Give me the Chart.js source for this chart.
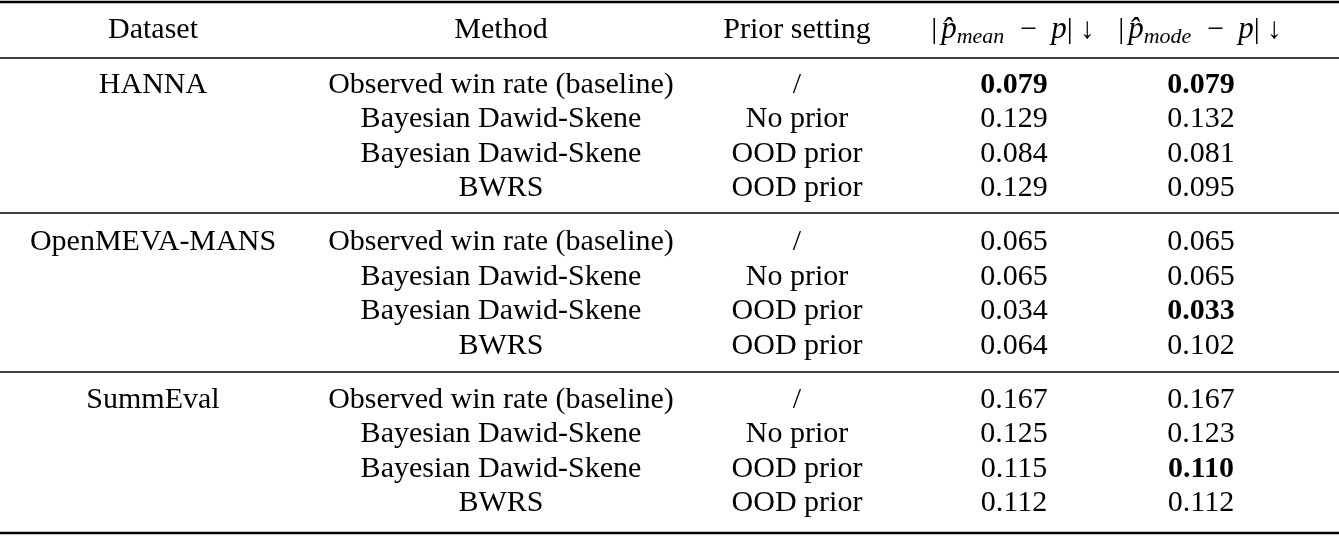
<!DOCTYPE html>
<html><head><meta charset="utf-8">
<script src="https://cdn.jsdelivr.net/npm/chart.js@4.4.0/dist/chart.umd.min.js"></script>
<style>html,body{margin:0;padding:0;background:#fff}</style>
</head><body>
<canvas id="c" width="1339" height="536"></canvas>
<script>
// table content
const headers = ['Dataset', 'Method', 'Prior setting'];
const datasetNames = ['HANNA', 'OpenMEVA-MANS', 'SummEval'];
const methods = ['Observed win rate (baseline)', 'Bayesian Dawid-Skene', 'Bayesian Dawid-Skene', 'BWRS'];
const priors = ['/', 'No prior', 'OOD prior', 'OOD prior'];
const meanErr = [
  ['0.079', '0.129', '0.084', '0.129'],
  ['0.065', '0.065', '0.034', '0.064'],
  ['0.167', '0.125', '0.115', '0.112']
];
const modeErr = [
  ['0.079', '0.132', '0.081', '0.095'],
  ['0.065', '0.065', '0.033', '0.102'],
  ['0.167', '0.123', '0.110', '0.112']
];
const meanBold = [[true, false, false, false], [false, false, false, false], [false, false, false, false]];
const modeBold = [[true, false, false, false], [false, false, true, false], [false, false, true, false]];

// layout (pixel units on the hidden linear scales)
const colX = [153, 501, 797, 1014, 1201];
const headY = 30, firstRowY = 85, rowStep = 34.5, groupStep = 157.5;
const rules = [[2, 2.5], [58, 1.3], [213, 1.3], [372, 1.3], [533, 2.5]];
const FONT = '"Liberation Serif", "DejaVu Serif", serif';
const SIZE = 30;

const tablePlugin = {
  id: 'table',
  afterDraw(chart) {
    const ctx = chart.ctx, xs = chart.scales.x, ys = chart.scales.y;
    const X = v => xs.getPixelForValue(v), Y = v => ys.getPixelForValue(v);
    ctx.save();
    ctx.fillStyle = '#000';
    ctx.strokeStyle = '#000';
    rules.forEach(([y, w]) => {
      ctx.lineWidth = w;
      ctx.beginPath(); ctx.moveTo(X(0), Y(y)); ctx.lineTo(X(1339), Y(y)); ctx.stroke();
    });
    ctx.textBaseline = 'middle';
    ctx.textAlign = 'center';
    const txt = (s, x, y, bold) => {
      ctx.font = (bold ? 'bold ' : '') + SIZE + 'px ' + FONT;
      ctx.fillText(s, X(x), Y(y));
    };
    headers.forEach((h, i) => txt(h, colX[i], headY));
    // math headers
    const mathHead = (sub, cx) => {
      const parts = [
        ['|', '30px', 0, 4], ['p\u0302', 'italic 31px'], [sub, 'italic 22px', 7, 2],
        ['\u2212', '30px', 0, 14, 14], ['p', 'italic 31px'], ['|', '30px', 0, 3], ['\u2193', '30px', 0, 2, 4]
      ];
      ctx.textAlign = 'left';
      let w = 0;
      parts.forEach(p => { ctx.font = p[1] + ' ' + FONT; w += ctx.measureText(p[0]).width + (p[3] || 0) + (p[4] || 0); });
      let x = X(cx) - w / 2;
      parts.forEach(p => {
        ctx.font = p[1] + ' ' + FONT;
        x += (p[4] || 0);
        ctx.fillText(p[0], x, Y(headY + (p[2] || 0)));
        x += ctx.measureText(p[0]).width + (p[3] || 0);
      });
      ctx.textAlign = 'center';
    };
    mathHead('mean', colX[3]);
    mathHead('mode', colX[4]);
    datasetNames.forEach((d, g) => {
      const y0 = firstRowY + g * groupStep;
      txt(d, colX[0], y0);
      methods.forEach((m, r) => {
        const y = y0 + r * rowStep;
        txt(m, colX[1], y);
        txt(priors[r], colX[2], y);
        txt(meanErr[g][r], colX[3], y, meanBold[g][r]);
        txt(modeErr[g][r], colX[4], y, modeBold[g][r]);
      });
    });
    ctx.restore();
  }
};

new Chart(document.getElementById('c'), {
  type: 'scatter',
  data: { datasets: [{ data: [] }] },
  options: {
    responsive: false,
    animation: false,
    layout: { padding: 0 },
    plugins: { legend: { display: false }, tooltip: { enabled: false } },
    scales: {
      x: { type: 'linear', min: 0, max: 1339, display: false },
      y: { type: 'linear', min: 0, max: 536, reverse: true, display: false }
    }
  },
  plugins: [tablePlugin]
});
</script>
</body></html>
